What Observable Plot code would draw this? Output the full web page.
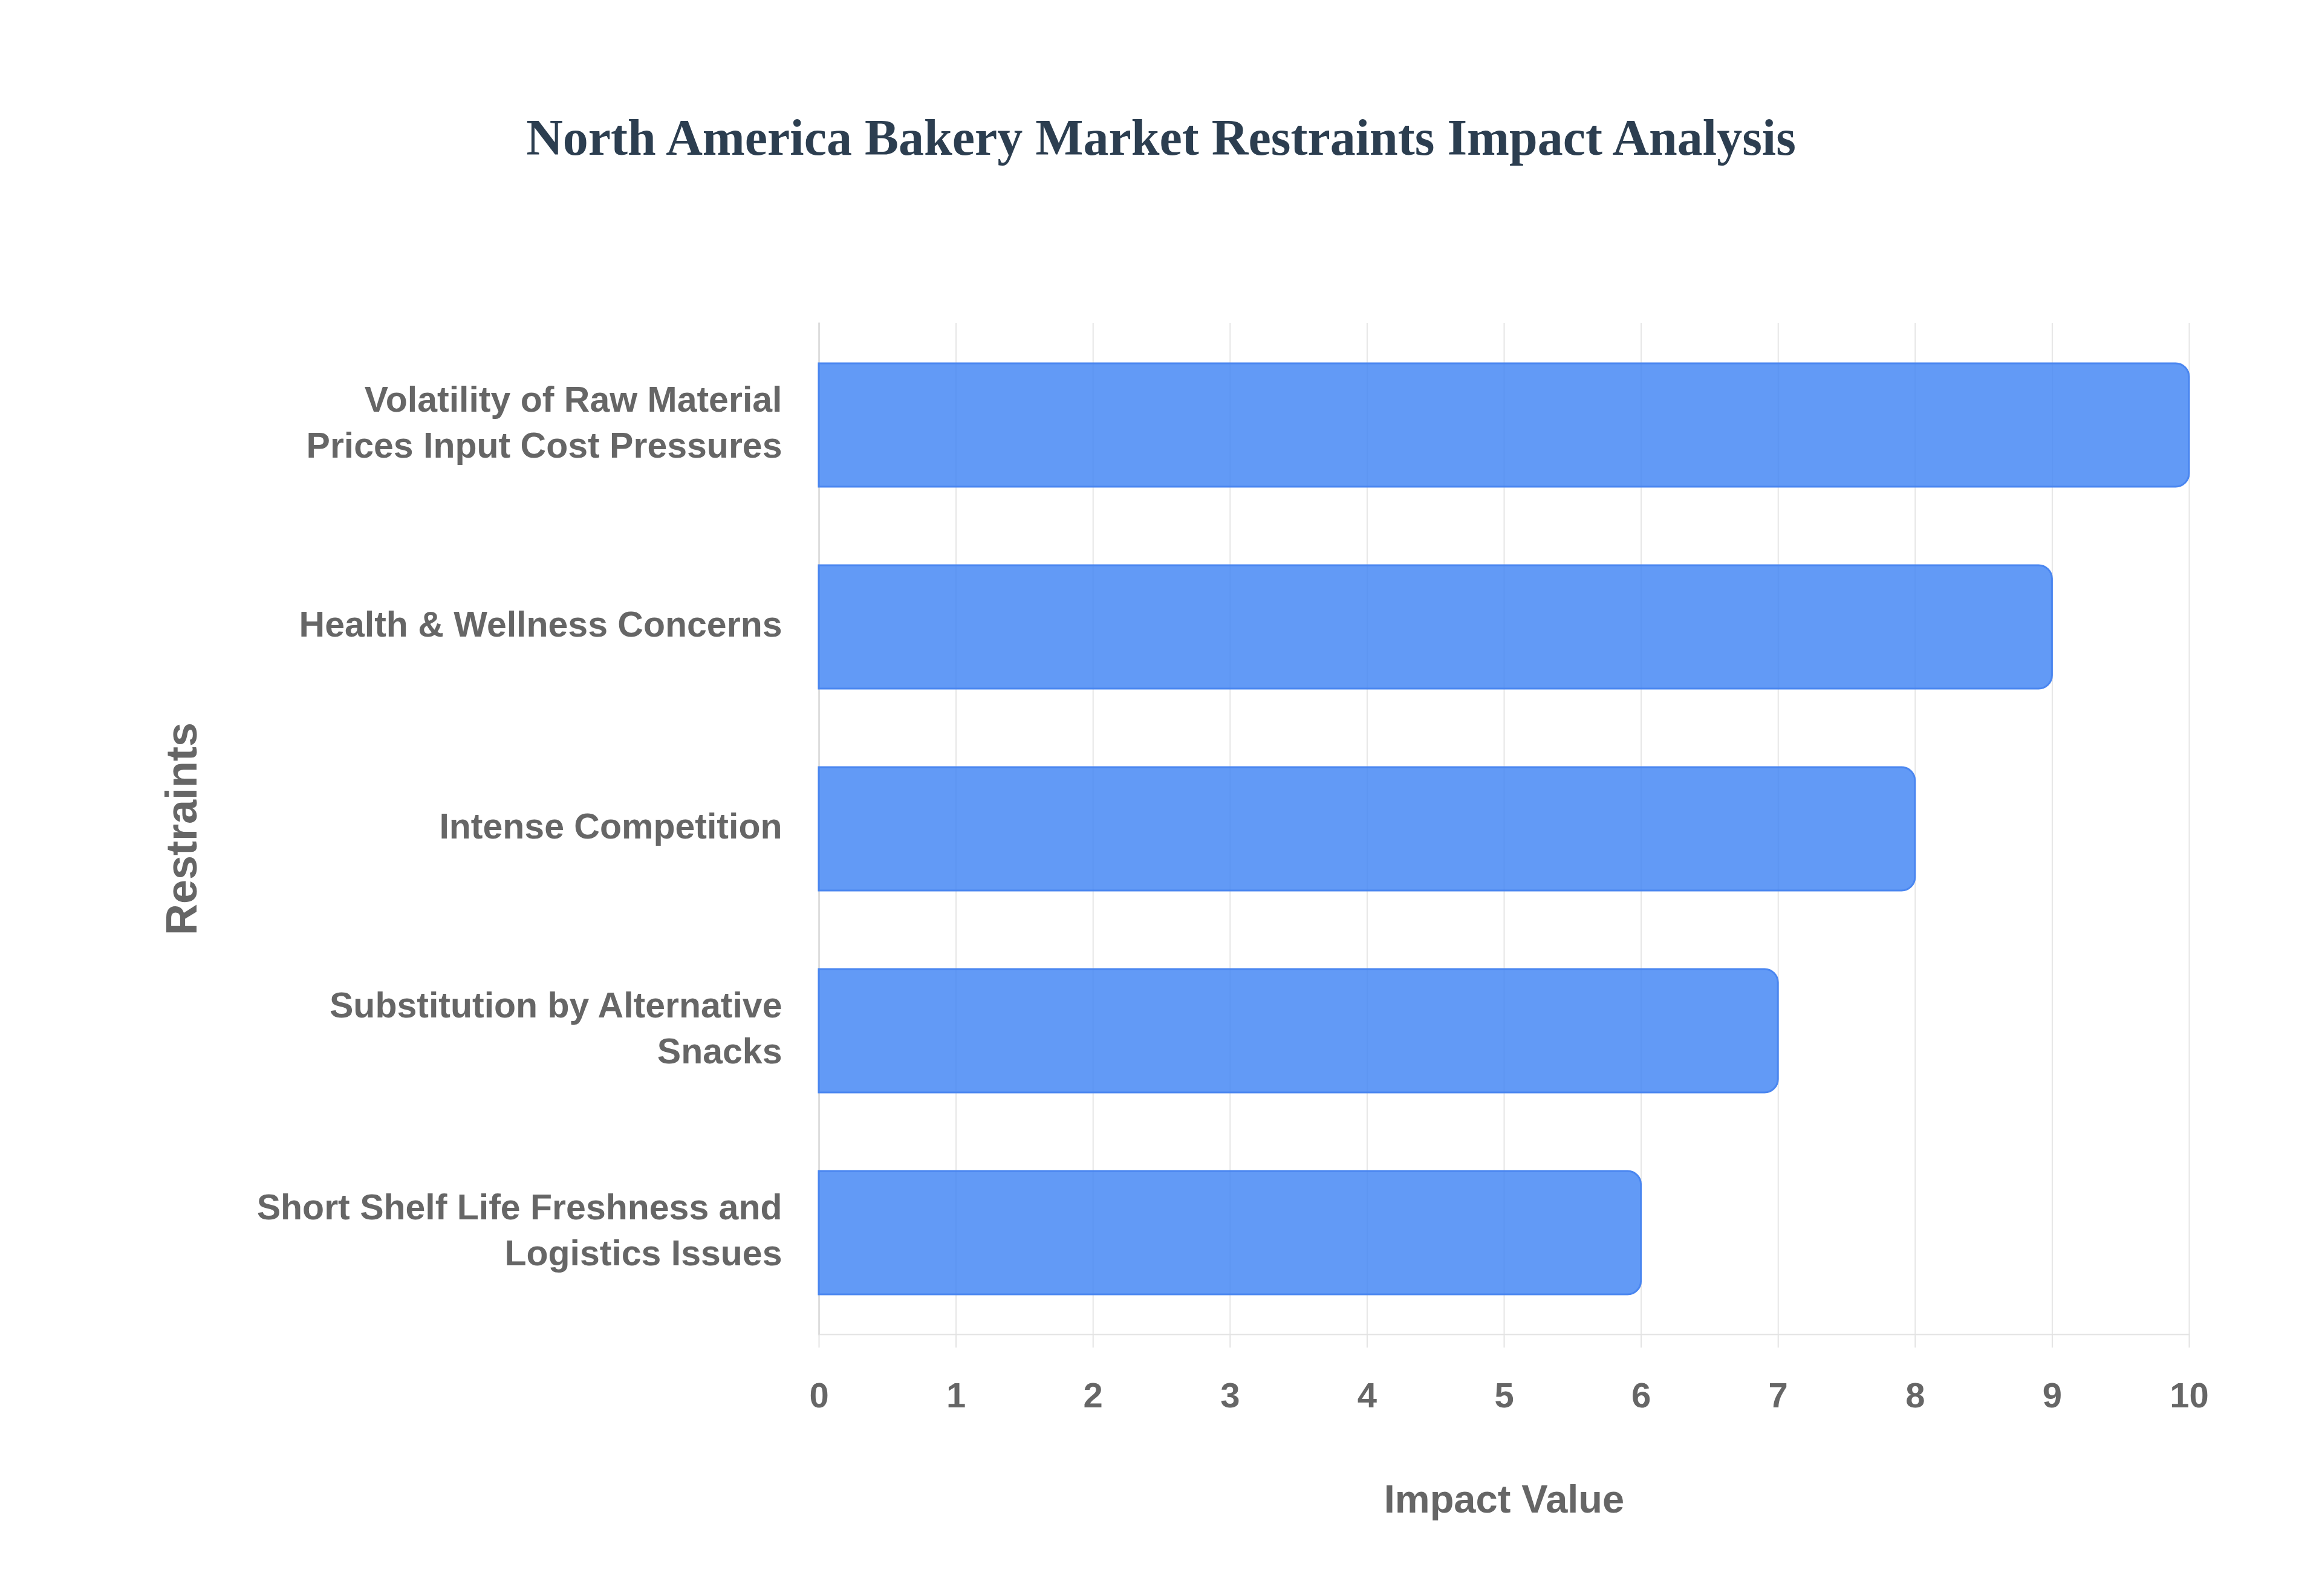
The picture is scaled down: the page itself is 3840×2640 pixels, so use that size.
<!DOCTYPE html>
<html><head><meta charset="utf-8">
<script src="https://cdn.jsdelivr.net/npm/d3@7"></script>
<script src="https://cdn.jsdelivr.net/npm/@observablehq/plot@0.6"></script>
<style>
html,body{margin:0;padding:0;background:#fff;}
#wrap{width:3840px;height:2640px;position:relative;background:#fff;}
#title{height:400px;box-sizing:border-box;padding-top:186px;text-align:center;font-family:"Liberation Serif","Times New Roman",serif;font-weight:bold;font-size:84px;line-height:84px;color:#2c3e50;}
#chart svg{display:block;}
</style></head><body>
<div id="wrap"><div id="title">North America Bakery Market Restraints Impact Analysis</div><div id="chart"></div></div>
<script>
const restraints = [
  "Volatility of Raw Material Prices Input Cost Pressures",
  "Health & Wellness Concerns",
  "Intense Competition",
  "Substitution by Alternative Snacks",
  "Short Shelf Life Freshness and Logistics Issues"
];
const tickLabels = [
  "Volatility of Raw Material\nPrices Input Cost Pressures",
  "Health & Wellness Concerns",
  "Intense Competition",
  "Substitution by Alternative\nSnacks",
  "Short Shelf Life Freshness and\nLogistics Issues"
];
const impactValues = [10, 9, 8, 7, 6];
const xTicks = [0, 1, 2, 3, 4, 5, 6, 7, 8, 9, 10];
const xAxisTitle = "Impact Value";
const yAxisTitle = "Restraints";

const data = restraints.map((r, i) => ({restraint: r, value: impactValues[i]}));
const labelOf = new Map(restraints.map((r, i) => [r, tickLabels[i]]));

const chart = Plot.plot({
  width: 3840,
  height: 2240,
  marginTop: 134,
  marginBottom: 433,
  marginLeft: 1354,
  marginRight: 220,
  style: {fontFamily: "'Liberation Sans', Arial, sans-serif", fontWeight: "bold", color: "#666", background: "#fff"},
  x: {domain: [0, 10], label: null},
  y: {domain: restraints, paddingInner: 0.39, paddingOuter: 0.195, label: null},
  marks: [
    Plot.gridX(xTicks, {stroke: "#e6e6e6", strokeOpacity: 1, strokeWidth: 2}),
    Plot.frame({anchor: "bottom", stroke: "#e3e3e3", strokeWidth: 2}),
    Plot.frame({anchor: "left", stroke: "#cfcfcf", strokeWidth: 2}),
    Plot.barX(data, {x: "value", y: "restraint", fill: "#4285f4", fillOpacity: 0.83, stroke: "#4a86f0", strokeWidth: 3, rx2: 22}),
    Plot.axisX({ticks: xTicks, tickSize: 22, tickPadding: 57, fontSize: 58, stroke: "#e3e3e3", strokeWidth: 2, fill: "#666", tickFormat: d => String(d), label: null}),
    Plot.axisY({tickSize: 0, tickPadding: 61, fontSize: 59, lineHeight: 1.3, dy: -9, fill: "#666", tickFormat: d => labelOf.get(d), label: null}),
    Plot.text([xAxisTitle], {frameAnchor: "bottom", dy: 274, text: d => d, fontSize: 65, fill: "#666", lineAnchor: "middle"}),
    Plot.text([yAxisTitle], {frameAnchor: "left", dx: -1053, rotate: -90, text: d => d, fontSize: 72, fill: "#666", lineAnchor: "middle", textAnchor: "middle"})
  ]
});
document.getElementById("chart").appendChild(chart);
</script>
</body></html>
